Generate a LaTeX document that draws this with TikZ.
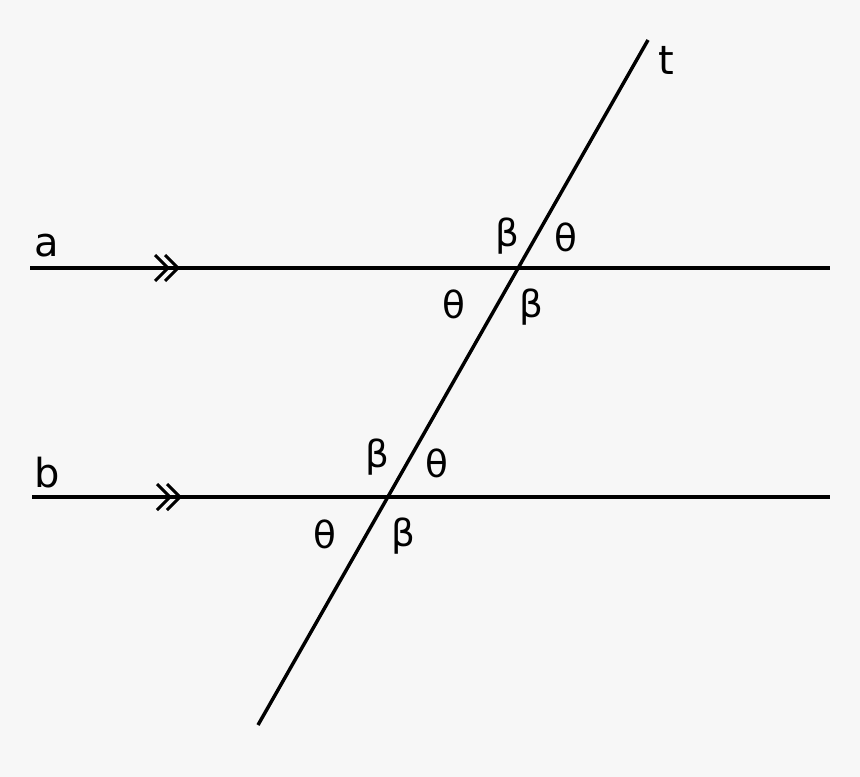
\documentclass[tikz,border=0pt]{standalone}
\usepackage{fontspec}
\setmainfont{DejaVu Sans}
\usetikzlibrary{positioning}
\usetikzlibrary{calc}
\definecolor{paper}{RGB}{247,247,247}

\begin{document}
\begin{tikzpicture}
			[x=0.75pt,y=-0.75pt,
			 line/.style={line width=2.6pt,black},
			 chev/.style={line width=2.2pt,black},
			 linename/.style={anchor=base,font=\fontsize{30}{36}\selectfont},
			 angtext/.style={anchor=base,font=\fontsize{28}{33}\selectfont}]

			\fill[paper] (0,0) rectangle (860,777);
			\useasboundingbox (0,0) rectangle (860,777);

			\coordinate (a0) at (30,268);
			\coordinate (a1) at (830,268);
			\coordinate (b0) at (32,497);
			\coordinate (b1) at (830,497);
			\coordinate (t0) at (258,725);
			\coordinate (t1) at (648,40);

			\draw[line] (a0) -- (a1);
			\draw[line] (b0) -- (b1);
			\draw[line] (t0) -- (t1);

			% parallel marks
			\coordinate (ca) at (168,268);
			\coordinate (cb) at (170,497);
			\foreach \c in {ca,cb} {
				\draw[chev] ($(\c)+(-13,-13)$) -- (\c) -- ($(\c)+(-13,13)$);
				\draw[chev] ($(\c)+(-3,-13)$) -- ($(\c)+(10,0)$) -- ($(\c)+(-3,13)$);
			}

			\node[linename] (na) at (47,257) {a};
			\node[linename] (nb) at (47,487) {b};
			\node[linename] (nt) at (666,75) {t};

			% angles at a
			\node[angtext] (ba1) at (507,247) {β};
			\node[angtext] (ta1) at (566,252) {θ};
			\node[angtext] (ta2) at (454,318) {θ};
			\node[angtext] (ba2) at (531,317) {β};

			% angles at b
			\node[angtext] (bb1) at (377,467) {β};
			\node[angtext] (tb1) at (437,477) {θ};
			\node[angtext] (tb2) at (325,548) {θ};
			\node[angtext] (bb2) at (403,546) {β};
		\end{tikzpicture}
\end{document}
